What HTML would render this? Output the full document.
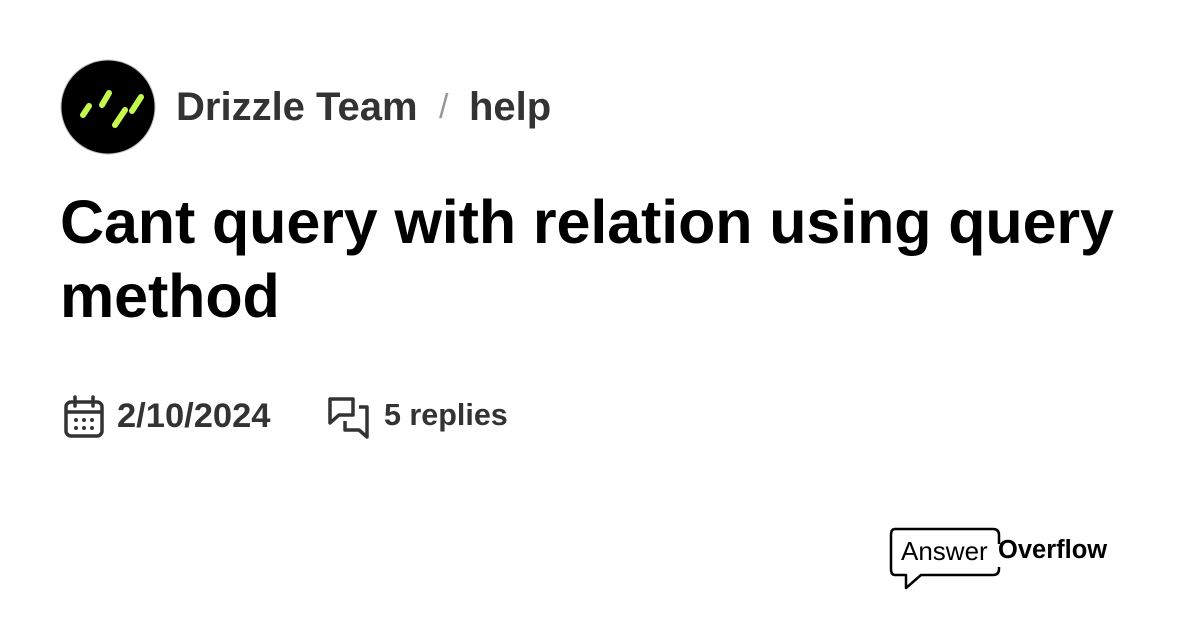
<!DOCTYPE html>
<html><head><style>
body{margin:0;width:1200px;height:630px;background:#fff;position:relative;overflow:hidden;font-family:"Liberation Sans",sans-serif;}
.a{position:absolute;white-space:nowrap;}
</style></head><body>
<svg class="a" style="left:60px;top:59px" width="96" height="96" viewBox="0 0 96 96">
<circle cx="48" cy="48" r="47" fill="#000" stroke="#bbb" stroke-width="1"/>
<g stroke="#c5f74f" stroke-width="6" stroke-linecap="round">
<line x1="23" y1="56" x2="29" y2="47"/><line x1="42" y1="46" x2="49" y2="34"/>
<line x1="55" y1="66" x2="65" y2="51"/><line x1="72" y1="52" x2="81" y2="38"/>
</g></svg>
<div class="a" style="left:176px;top:85px;font-size:40px;font-weight:bold;color:#333;">Drizzle Team</div>
<div class="a" style="left:439px;top:88px;font-size:34px;color:#999">/</div>
<div class="a" style="left:469px;top:85px;font-size:40px;font-weight:bold;color:#333">help</div>
<div class="a" style="left:60px;top:185px;font-size:61px;font-weight:bold;color:#000;line-height:74px;letter-spacing:-0.1px">Cant query with relation using query<br>method</div>
<svg class="a" style="left:63px;top:395px" width="42" height="44" viewBox="0 0 42 44">
<rect x="3" y="7" width="36" height="34" rx="5" fill="none" stroke="#333" stroke-width="3.5"/>
<line x1="3" y1="17" x2="39" y2="17" stroke="#333" stroke-width="3.5"/>
<line x1="12" y1="2" x2="12" y2="11" stroke="#333" stroke-width="3.5" stroke-linecap="round"/>
<line x1="30" y1="2" x2="30" y2="11" stroke="#333" stroke-width="3.5" stroke-linecap="round"/>
<g fill="#333"><circle cx="13" cy="25" r="2"/><circle cx="21" cy="25" r="2"/><circle cx="29" cy="25" r="2"/><circle cx="13" cy="33" r="2"/><circle cx="21" cy="33" r="2"/><circle cx="29" cy="33" r="2"/></g>
</svg>
<div class="a" style="left:117px;top:397px;font-size:34.5px;font-weight:bold;color:#333;">2/10/2024</div>
<svg class="a" style="left:326px;top:395px" width="48" height="46" viewBox="0 0 48 46">
<path d="M4 4 H27 V20 H13 L4 28 Z" fill="none" stroke="#333" stroke-width="3.5" stroke-linejoin="round"/>
<path d="M33 12 H41 V34 V42 L33 35 H19 V26" fill="none" stroke="#333" stroke-width="3.5" stroke-linejoin="round"/>
</svg>
<div class="a" style="left:384px;top:398px;font-size:30.5px;font-weight:bold;color:#333;">5 replies</div>
<svg class="a" style="left:889px;top:527px" width="115" height="64" viewBox="0 0 115 64">
<path d="M110 17 V8 Q110 2 104 2 H6 Q2 2 2 8 V42 Q2 48 6 48 H17 V61 L32 48 H104 Q110 48 110 42 V40" fill="none" stroke="#000" stroke-width="2.5" stroke-linejoin="round"/>
</svg>
<div class="a" style="left:901px;top:536px;font-size:26px;color:#000;">Answer</div>
<div class="a" style="left:998px;top:536px;font-size:25.5px;font-weight:bold;color:#000;">Overflow</div>
</body></html>
